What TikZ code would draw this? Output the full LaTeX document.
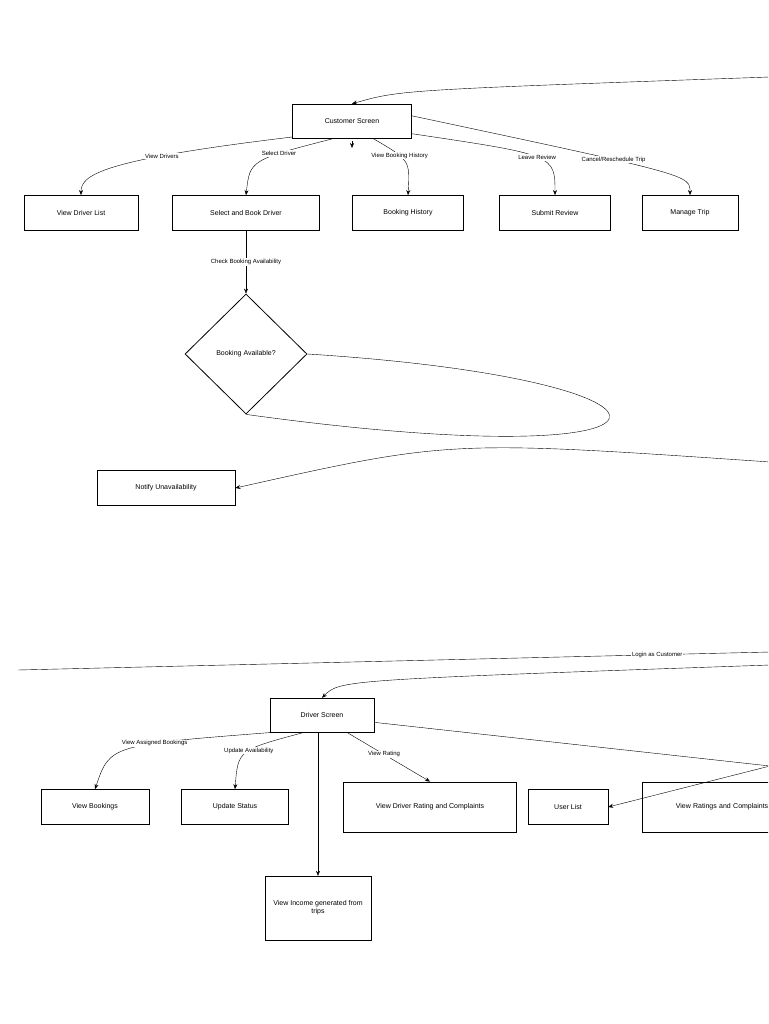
\documentclass[tikz,border=0pt]{standalone}
\usepackage{fontspec}
\setmainfont{Liberation Sans}
\usetikzlibrary{shapes.geometric, positioning, arrows.meta}
\tikzset{
  box/.style={draw, thick, minimum height=35pt, font=\fontsize{7}{8}\selectfont, align=center, inner sep=2pt},
  lbl/.style={font=\fontsize{6}{7}\selectfont, fill=white, inner sep=1pt},
  flow/.style={-{Stealth[length=5pt,width=4pt]}}
}
\begin{document}
\begin{tikzpicture}[x=1pt,y=-1pt]
  \clip (0,0) rectangle (768,1024);
  \useasboundingbox (0,0) rectangle (768,1024);
  % customer part
  \node[box, thin, minimum width=119pt, minimum height=34pt] (cust) at (352,121) {Customer Screen};
  \node[box, minimum width=114pt] (vdl) at (81,213) {View Driver List};
  \node[box, minimum width=147pt] (sbd) at (246,213) {Select and Book Driver};
  \node[box, minimum width=111pt] (bh) at (408,213) {Booking History};
  \node[box, minimum width=111pt] (sr) at (555,213) {Submit Review};
  \node[box, minimum width=96pt] (mt) at (690,213) {Manage Trip};
  \node[draw, thick, diamond, inner sep=0pt, minimum width=122pt, minimum height=120pt, font=\fontsize{7}{8}\selectfont] (avail) at (246,354) {Booking Available?};
  \node[box, minimum width=138pt] (notify) at (166,488) {Notify Unavailability};
  \coordinate (in1) at (770,77);
  \coordinate (stub) at (352,141);
  \coordinate (far1) at (770,462);
  % customer edges
  \draw[flow] (in1) .. controls (400,90) .. (cust.north);
  \draw[flow] (stub) -- ++(0,7);
  \draw[flow] (cust.195) .. controls (100,160) and (81,175) .. (vdl.north) node[lbl, pos=0.3] {View Drivers};
  \draw[flow] (cust.225) .. controls (250,160) .. (sbd.north) node[lbl, pos=0.3] {Select Driver};
  \draw[flow] (cust.320) .. controls (410,160) .. (bh.north) node[lbl, pos=0.35] {View Booking History};
  \draw[flow] (cust.-12) .. controls (555,155) .. (sr.north) node[lbl, pos=0.5] {Leave Review};
  \draw[flow] (cust.5) .. controls (690,175) .. (mt.north) node[lbl, pos=0.35] {Cancel/Reschedule Trip};
  \draw[flow] (sbd) -- (avail.north) node[lbl, pos=0.5] {Check Booking Availability};
  \draw (avail.east) .. controls (720,380) and (720,480) .. (avail.south);
  \draw[flow] (far1) .. controls (450,440) .. (notify.east);
  % driver part
  \node[box, thin, minimum width=104pt, minimum height=34pt] (drv) at (322,715) {Driver Screen};
  \node[box, minimum width=108pt] (vb) at (95,807) {View Bookings};
  \node[box, minimum width=107pt] (us) at (235,807) {Update Status};
  \node[box, minimum width=173pt, minimum height=50pt] (vdr) at (430,807) {View Driver Rating and Complaints};
  \node[box, thin, minimum width=80pt] (ul) at (568,807) {User List};
  \node[box, thin, minimum width=160pt, minimum height=50pt, text width=150pt] (vrc) at (722,807) {View Ratings and Complaints};
  \node[box, thin, minimum width=106pt, minimum height=64pt] (inc) at (318,908) {View Income generated from\\trips};
  \coordinate (l0) at (18,670);
  \coordinate (l1) at (770,652);
  \coordinate (in2) at (770,665);
  \coordinate (far2) at (770,766);
  % driver edges
  \draw (l0) -- (l1) node[lbl, pos=0.85] {Login as Customer};
  \draw[flow] (in2) .. controls (340,680) .. (drv.north);
  \draw[flow] (drv.200) .. controls (110,745) .. (vb.north) node[lbl, pos=0.35] {View Assigned Bookings};
  \draw[flow] (drv.225) .. controls (238,750) .. (us.north) node[lbl, pos=0.45] {Update Availability};
  \draw[flow] (drv.-35) -- (vdr.north) node[lbl, pos=0.45] {View Rating};
  \draw (drv.-8) -- (far2);
  \draw[flow] (far2) -- (ul.east);
  \draw[flow] (drv.south -| inc.north) -- (inc.north);
\end{tikzpicture}
\end{document}
